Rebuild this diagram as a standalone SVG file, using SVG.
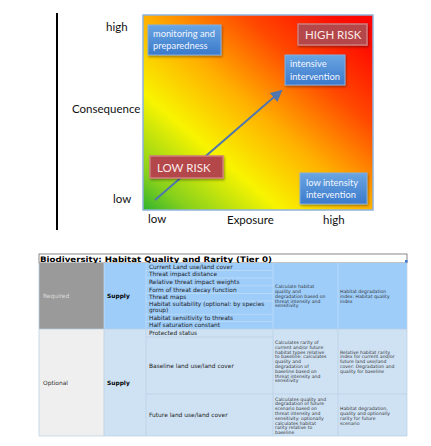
<svg xmlns="http://www.w3.org/2000/svg" width="431" height="446" viewBox="0 0 431 446">
<style>
.ax{font-family:Lato,"Open Sans",sans-serif;font-size:11.5px;fill:#111}
.bt{font-family:Lato,"Open Sans",sans-serif;font-size:9.3px;fill:#f2f6ff}
.rt{font-family:Lato,"Open Sans",sans-serif;font-size:11.5px;fill:#fbeaea}
.blue{fill:url(#bluegrad);stroke:#86afe0;stroke-width:1;filter:url(#sh)}
.red{fill:#b34648;stroke:#cf7d7d;stroke-width:1.5;filter:url(#sh)}
.tt{font-family:"DejaVu Sans",Verdana,sans-serif;font-weight:bold;font-size:7.6px;fill:#000}
.in{font-family:"DejaVu Sans",Verdana,sans-serif;font-size:5.9px;fill:#222}
.sm{font-family:"DejaVu Sans",Verdana,sans-serif;font-size:4.6px;fill:#333}
.lab{font-family:"DejaVu Sans",Verdana,sans-serif;font-size:5.9px}
.grid{stroke:#c4def8;stroke-width:0.7;fill:none}
.grid2{stroke:#b9cee3;stroke-width:0.7;fill:none}
</style>
<defs>
<linearGradient id="heat" x1="0" y1="1" x2="1" y2="0">
<stop offset="0" stop-color="#2fb32f"/>
<stop offset="0.1" stop-color="#86d01c"/>
<stop offset="0.3" stop-color="#f8f400"/>
<stop offset="0.5" stop-color="#ffb000"/>
<stop offset="0.72" stop-color="#ff4800"/>
<stop offset="0.9" stop-color="#ff1000"/>
<stop offset="1" stop-color="#ff0000"/>
</linearGradient>
<linearGradient id="bluegrad" x1="0" y1="0" x2="0" y2="1">
<stop offset="0" stop-color="#6aa5e2"/>
<stop offset="1" stop-color="#3b7acb"/>
</linearGradient>
<filter id="sh" x="-20%" y="-20%" width="140%" height="150%">
<feDropShadow dx="1" dy="1.5" stdDeviation="1" flood-color="#000" flood-opacity="0.35"/>
</filter>
<marker id="ah" markerWidth="6" markerHeight="6" refX="5" refY="3" orient="auto" markerUnits="strokeWidth">
<path d="M0,0 L6,3 L0,6 z" fill="#4f76ad"/>
</marker>
</defs>

<g id="chart">
<line x1="57" y1="13" x2="57" y2="230" stroke="#000" stroke-width="2"/>
<rect x="143" y="15" width="230" height="195" fill="url(#heat)" stroke="#8fb3db" stroke-width="1.5"/>
<text class="ax" x="106" y="31">high</text>
<text class="ax" x="72" y="113">Consequence</text>
<text class="ax" x="113" y="203">low</text>
<text class="ax" x="148" y="223">low</text>
<text class="ax" x="227" y="224">Exposure</text>
<text class="ax" x="323" y="224">high</text>
</g>

<g id="connectors">
<line x1="155" y1="200" x2="281" y2="91" stroke="#4f76ad" stroke-width="2" marker-end="url(#ah)"/>
</g>

<g id="monitoring">
<rect class="blue" x="148" y="25" width="73" height="30"/>
<text class="bt" x="153" y="37">monitoring and</text>
<text class="bt" x="153" y="49">preparedness</text>
</g>
<g id="high-risk">
<rect class="red" x="298" y="24" width="69" height="21"/>
<text class="rt" x="305" y="39">HIGH RISK</text>
</g>
<g id="intensive">
<rect class="blue" x="285" y="55" width="60" height="30"/>
<text class="bt" x="290" y="67">intensive</text>
<text class="bt" x="290" y="80">intervention</text>
</g>
<g id="low-risk">
<rect class="red" x="150" y="156" width="73" height="22"/>
<text class="rt" x="157" y="172">LOW RISK</text>
</g>
<g id="low-intensity">
<rect class="blue" x="300" y="173" width="67" height="31"/>
<text class="bt" x="306" y="186">low intensity</text>
<text class="bt" x="306" y="198">intervention</text>
</g>

<g id="table">
<rect x="39" y="254" width="368" height="9" fill="#fff" stroke="#555" stroke-width="0.7"/>
<rect x="405" y="260" width="2.5" height="2.5" fill="#3c78d8"/>
<text class="tt" x="40" y="261.5" textLength="232" lengthAdjust="spacingAndGlyphs">Biodiversity: Habitat Quality and Rarity (Tier 0)</text>

<rect x="39" y="263" width="65" height="66" fill="#9a9a9a"/>
<rect x="104" y="263" width="303" height="66" fill="#9ecdfa"/>
<rect x="39" y="329" width="65" height="107" fill="#efefef"/>
<rect x="104" y="329" width="303" height="107" fill="#cfe2f4"/>

<path class="grid" d="M104,263 V329 M146,263 V329 M273,263 V329 M338,263 V329 M146,270.5 H273 M146,278 H273 M146,285.8 H273 M146,293.5 H273 M146,301 H273 M146,314.3 H273 M146,321.5 H273"/>
<path class="grid2" d="M104,329 V436 M146,329 V436 M273,329 V436 M338,329 V436 M39,329 H407 M146,337 H273 M146,394 H407 M39,436 H407 M39,263 V436 M407,263 V436"/>

<text class="lab" x="43" y="298" fill="#dcdcdc">Required</text>
<text class="lab" x="107" y="298" font-weight="bold" fill="#000">Supply</text>
<text class="in" x="149" y="268.6">Current Land use/land cover</text>
<text class="in" x="149" y="276.3">Threat impact distance</text>
<text class="in" x="149" y="284">Relative threat impact weights</text>
<text class="in" x="149" y="291.7">Form of threat decay function</text>
<text class="in" x="149" y="299.3">Threat maps</text>
<text class="in" x="149" y="306.4">Habitat suitability (optional: by species</text>
<text class="in" x="149" y="312.4">group)</text>
<text class="in" x="149" y="319.9">Habitat sensitivity to threats</text>
<text class="in" x="149" y="327.3">Half saturation constant</text>
<text class="sm" x="275"><tspan x="275" y="288.2">Calculate habitat</tspan><tspan x="275" y="293">quality and</tspan><tspan x="275" y="297.8">degradation based on</tspan><tspan x="275" y="302.6">threat intensity and</tspan><tspan x="275" y="307.4">sensitivity</tspan></text>
<text class="sm" x="340"><tspan x="340" y="293">Habitat degradation</tspan><tspan x="340" y="297.8">index: Habitat quality</tspan><tspan x="340" y="302.6">index</tspan></text>

<text class="lab" x="43" y="385" fill="#333">Optional</text>
<text class="lab" x="107" y="385" font-weight="bold" fill="#000">Supply</text>
<text class="in" x="149" y="335">Protected status</text>
<text class="in" x="149" y="367.5">Baseline land use/land cover</text>
<text class="in" x="149" y="417">Future land use/land cover</text>
<text class="sm"><tspan x="275" y="343.9">Calculates rarity of</tspan><tspan x="275" y="348.7">current and/or future</tspan><tspan x="275" y="353.5">habitat types relative</tspan><tspan x="275" y="358.3">to baseline: calculates</tspan><tspan x="275" y="363.1">quality and</tspan><tspan x="275" y="367.9">degradation of</tspan><tspan x="275" y="372.7">baseline based on</tspan><tspan x="275" y="377.5">threat intensity and</tspan><tspan x="275" y="382.3">sensitivity</tspan></text>
<text class="sm"><tspan x="340" y="353.5">Relative habitat rarity</tspan><tspan x="340" y="358.3">index for current and/or</tspan><tspan x="340" y="363.1">future land use/land</tspan><tspan x="340" y="367.9">cover: Degradation and</tspan><tspan x="340" y="372.7">quality for baseline</tspan></text>
<text class="sm"><tspan x="275" y="400.6">Calculates quality and</tspan><tspan x="275" y="405.4">degradation of future</tspan><tspan x="275" y="410.2">scenario based on</tspan><tspan x="275" y="415">threat intensity and</tspan><tspan x="275" y="419.8">sensitivity: optionally</tspan><tspan x="275" y="424.6">calculates habitat</tspan><tspan x="275" y="429.4">rarity relative to</tspan><tspan x="275" y="434.2">baseline</tspan></text>
<text class="sm"><tspan x="340" y="410.2">Habitat degradation,</tspan><tspan x="340" y="415">quality and optionally</tspan><tspan x="340" y="419.8">rarity for future</tspan><tspan x="340" y="424.6">scenario</tspan></text>
</g>
</svg>
